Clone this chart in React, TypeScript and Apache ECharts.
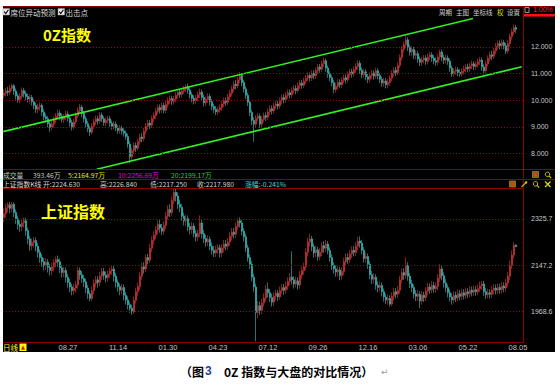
import React, { useEffect, useRef } from "react";
import * as echarts from "echarts";

// [open, close, low, high] — OZ index (top panel)
const ozCandles: number[][] = [
  [10.18,10.26,10.06,10.40],[10.26,10.34,10.14,10.46],[10.34,10.30,10.16,10.50],[10.30,10.44,10.20,10.56],[10.44,10.54,10.34,10.62],
  [10.54,10.34,10.20,10.60],[10.34,10.16,10.02,10.44],[10.16,10.02,9.90,10.26],[10.02,10.14,9.88,10.24],[10.14,10.36,10.04,10.48],
  [10.36,10.24,10.10,10.46],[10.24,10.14,10.00,10.34],[10.14,10.04,9.92,10.24],[10.04,10.10,9.88,10.22],[10.10,9.94,9.80,10.20],
  [9.94,9.80,9.66,10.04],[9.80,9.66,9.52,9.90],[9.66,9.74,9.50,9.86],[9.74,9.80,9.60,9.92],[9.80,9.56,9.42,9.88],
  [9.56,9.38,9.24,9.66],[9.38,9.30,9.16,9.50],[9.30,9.12,8.98,9.40],[9.12,8.98,8.81,9.22],[8.98,9.10,8.86,9.22],
  [9.10,9.26,8.98,9.38],[9.26,9.40,9.14,9.52],[9.40,9.52,9.28,9.66],[9.52,9.40,9.26,9.62],[9.40,9.28,9.16,9.50],
  [9.28,9.36,9.14,9.48],[9.36,9.48,9.24,9.60],[9.48,9.32,9.20,9.58],[9.32,9.16,9.02,9.42],[9.16,9.00,8.86,9.26],
  [9.00,9.18,8.90,9.30],[9.18,9.42,9.08,9.54],[9.42,9.60,9.32,9.72],[9.60,9.74,9.48,9.86],[9.74,9.50,9.36,9.82],
  [9.50,9.30,9.16,9.60],[9.30,9.12,8.98,9.40],[9.12,8.94,8.80,9.22],[8.94,8.80,8.66,9.04],[8.80,9.02,8.70,9.14],
  [9.02,9.18,8.92,9.30],[9.18,9.30,9.06,9.42],[9.30,9.22,9.08,9.42],[9.22,9.44,9.12,9.56],[9.44,9.30,9.18,9.54],
  [9.30,9.16,9.04,9.40],[9.16,9.24,9.02,9.36],[9.24,9.30,9.12,9.42],[9.30,9.14,9.00,9.40],[9.14,9.02,8.90,9.24],
  [9.02,9.10,8.90,9.22],[9.10,8.96,8.84,9.20],[8.96,8.86,8.74,9.06],[8.86,8.94,8.74,9.06],[8.94,8.84,8.70,9.04],
  [8.84,8.76,8.64,8.94],[8.76,8.64,8.52,8.86],[8.64,8.36,8.22,8.74],[8.36,7.88,7.63,8.46],[7.88,8.10,7.74,8.22],
  [8.10,8.30,7.98,8.42],[8.30,8.20,8.06,8.42],[8.20,8.44,8.10,8.56],[8.44,8.62,8.32,8.74],[8.62,8.56,8.42,8.76],
  [8.56,8.84,8.46,8.96],[8.84,9.02,8.72,9.14],[9.02,9.14,8.90,9.26],[9.14,9.06,8.92,9.26],[9.06,9.30,8.96,9.42],
  [9.30,9.42,9.18,9.54],[9.42,9.58,9.30,9.70],[9.58,9.72,9.46,9.84],[9.72,9.64,9.50,9.84],[9.64,9.80,9.52,9.92],
  [9.80,9.62,9.50,9.90],[9.62,9.84,9.52,9.96],[9.84,9.98,9.72,10.10],[9.98,10.06,9.86,10.18],[10.06,9.96,9.82,10.16],
  [9.96,10.04,9.84,10.16],[10.04,10.18,9.92,10.30],[10.18,10.30,10.06,10.42],[10.30,10.22,10.08,10.40],[10.22,10.34,10.10,10.46],
  [10.34,10.42,10.22,10.54],[10.42,10.50,10.30,10.60],[10.50,10.38,10.24,10.62],[10.38,10.20,10.06,10.48],[10.20,10.06,9.92,10.30],
  [10.06,9.98,9.84,10.18],[9.98,10.08,9.86,10.20],[10.08,10.20,9.96,10.32],[10.20,10.30,10.08,10.44],[10.30,10.10,9.96,10.40],
  [10.10,9.90,9.76,10.20],[9.90,10.02,9.78,10.14],[10.02,10.14,9.90,10.26],[10.14,9.94,9.80,10.24],[9.94,9.76,9.62,10.04],
  [9.76,9.66,9.52,9.86],[9.66,9.56,9.44,9.78],[9.56,9.64,9.44,9.76],[9.64,9.72,9.52,9.84],[9.72,9.86,9.60,9.98],
  [9.86,9.98,9.74,10.10],[9.98,9.92,9.78,10.10],[9.92,10.12,9.82,10.24],[10.12,10.26,10.00,10.38],[10.26,10.42,10.14,10.54],
  [10.42,10.60,10.30,10.72],[10.60,10.54,10.40,10.76],[10.54,10.76,10.44,10.88],[10.76,10.92,10.64,11.06],[10.92,10.66,10.52,11.00],
  [10.66,10.42,10.28,10.76],[10.42,10.18,10.04,10.52],[10.18,9.92,9.78,10.28],[9.92,9.54,9.40,10.02],[9.54,9.24,9.06,9.64],
  [9.24,9.10,8.44,9.36],[9.10,9.32,8.98,9.44],[9.32,9.40,9.20,9.52],[9.40,9.10,8.96,9.50],[9.10,9.28,8.98,9.40],
  [9.28,9.42,9.16,9.54],[9.42,9.36,9.22,9.54],[9.36,9.56,9.26,9.68],[9.56,9.68,9.44,9.80],[9.68,9.60,9.46,9.80],
  [9.60,9.78,9.50,9.90],[9.78,9.86,9.66,9.98],[9.86,9.78,9.64,9.98],[9.78,9.98,9.68,10.10],[9.98,10.10,9.86,10.22],
  [10.10,10.02,9.88,10.22],[10.02,10.18,9.90,10.30],[10.18,10.28,10.06,10.40],[10.28,10.20,10.06,10.40],[10.20,10.36,10.08,10.48],
  [10.36,10.44,10.24,10.56],[10.44,10.36,10.22,10.56],[10.36,10.54,10.26,10.66],[10.54,10.64,10.42,10.76],[10.64,10.56,10.42,10.76],
  [10.56,10.72,10.46,10.84],[10.72,10.82,10.60,10.94],[10.82,10.92,10.70,11.04],[10.92,10.84,10.70,11.04],[10.84,11.00,10.72,11.12],
  [11.00,10.92,10.78,11.12],[10.92,11.10,10.80,11.22],[11.10,11.24,10.98,11.36],[11.24,11.16,11.02,11.36],[11.16,11.36,11.06,11.48],
  [11.36,11.48,11.24,11.60],[11.48,11.20,11.06,11.56],[11.20,10.98,10.84,11.30],[10.98,10.84,10.70,11.08],[10.84,10.66,10.52,10.94],
  [10.66,10.40,10.26,10.76],[10.40,10.52,10.28,10.64],[10.52,10.66,10.40,10.78],[10.66,10.58,10.44,10.78],[10.58,10.74,10.46,10.86],
  [10.74,10.84,10.62,10.96],[10.84,10.76,10.62,10.96],[10.76,10.96,10.66,11.08],[10.96,11.06,10.84,11.18],[11.06,10.98,10.84,11.18],
  [10.98,11.14,10.88,11.26],[11.14,11.26,11.02,11.38],[11.26,11.38,11.14,11.50],[11.38,11.12,10.98,11.48],[11.12,10.96,10.82,11.22],
  [10.96,11.06,10.84,11.18],[11.06,10.88,10.74,11.16],[10.88,10.78,10.64,10.98],[10.78,10.92,10.66,11.04],[10.92,11.02,10.80,11.14],
  [11.02,10.90,10.76,11.12],[10.90,11.10,10.80,11.22],[11.10,10.92,10.78,11.20],[10.92,10.78,10.64,11.02],[10.78,10.64,10.50,10.88],
  [10.64,10.72,10.50,10.84],[10.72,10.58,10.44,10.82],[10.58,10.66,10.44,10.78],[10.66,10.82,10.54,10.94],[10.82,11.00,10.70,11.12],
  [11.00,11.12,10.88,11.24],[11.12,11.04,10.90,11.24],[11.04,11.30,10.94,11.42],[11.30,11.60,11.20,11.72],[11.60,11.90,11.48,12.02],
  [11.90,12.08,11.78,12.20],[12.08,12.26,11.96,12.42],[12.26,11.98,11.84,12.36],[11.98,11.80,11.66,12.08],[11.80,11.90,11.66,12.02],
  [11.90,11.68,11.54,12.00],[11.68,11.74,11.52,11.86],[11.74,11.54,11.40,11.84],[11.54,11.42,11.28,11.64],[11.42,11.50,11.28,11.62],
  [11.50,11.58,11.38,11.70],[11.58,11.46,11.32,11.68],[11.46,11.62,11.34,11.74],[11.62,11.70,11.50,11.82],[11.70,11.58,11.44,11.80],
  [11.58,11.48,11.34,11.68],[11.48,11.42,11.28,11.60],[11.42,11.62,11.32,11.74],[11.62,11.80,11.50,11.90],[11.80,11.60,11.46,11.90],
  [11.60,11.50,11.36,11.70],[11.50,11.58,11.36,11.70],[11.58,11.46,11.32,11.68],[11.46,11.20,11.06,11.56],[11.20,10.98,10.87,11.30],
  [10.98,11.08,10.88,11.20],[11.08,11.14,10.96,11.26],[11.14,11.04,10.90,11.24],[11.04,10.98,10.88,11.16],[10.98,11.08,10.88,11.20],
  [11.08,11.16,10.96,11.28],[11.16,11.24,11.04,11.36],[11.24,11.18,11.04,11.36],[11.18,11.28,11.06,11.40],[11.28,11.36,11.16,11.48],
  [11.36,11.26,11.12,11.46],[11.26,11.34,11.14,11.46],[11.34,11.44,11.22,11.56],[11.44,11.50,11.32,11.62],[11.50,11.24,11.10,11.60],
  [11.24,11.10,10.96,11.34],[11.10,11.36,11.00,11.48],[11.36,11.56,11.26,11.68],[11.56,11.70,11.44,11.82],[11.70,11.64,11.50,11.84],
  [11.64,11.84,11.54,11.96],[11.84,12.02,11.72,12.14],[12.02,12.12,11.90,12.24],[12.12,12.04,11.90,12.24],[12.04,12.16,11.92,12.28],
  [12.16,12.04,11.90,12.26],[12.04,11.84,11.72,12.14],[11.84,12.12,11.74,12.24],[12.12,12.38,12.00,12.50],[12.38,12.56,12.26,12.68],
  [12.56,12.72,12.44,12.84],[12.72,12.66,12.52,12.82]
];

// [open, close, low, high] — Shanghai Composite (lower panel)
const shCandles: number[][] = [
  [2330,2346,2312,2366],[2346,2368,2330,2384],[2368,2380,2350,2390],[2380,2366,2346,2391],[2366,2382,2350,2391],
  [2382,2350,2332,2390],[2350,2326,2306,2362],[2326,2304,2284,2338],[2304,2296,2276,2320],[2296,2310,2278,2326],
  [2310,2318,2292,2332],[2318,2280,2260,2330],[2280,2248,2228,2292],[2248,2222,2202,2260],[2222,2234,2204,2250],
  [2234,2242,2216,2256],[2242,2220,2200,2254],[2220,2196,2176,2232],[2196,2176,2156,2208],[2176,2160,2140,2190],
  [2160,2146,2126,2174],[2146,2158,2128,2174],[2158,2138,2118,2170],[2138,2126,2106,2150],[2126,2140,2108,2156],
  [2140,2156,2122,2170],[2156,2168,2138,2180],[2168,2160,2140,2184],[2160,2136,2116,2172],[2136,2118,2098,2148],
  [2118,2126,2100,2140],[2126,2100,2080,2138],[2100,2080,2060,2112],[2080,2062,2042,2094],[2062,2048,2030,2074],
  [2048,2058,2032,2072],[2058,2070,2040,2084],[2070,2126,2056,2140],[2126,2110,2090,2138],[2110,2096,2078,2124],
  [2096,2082,2062,2108],[2082,2058,2038,2094],[2058,2036,2016,2070],[2036,2018,2006,2048],[2018,2048,2008,2064],
  [2048,2076,2034,2092],[2076,2090,2060,2104],[2090,2080,2060,2104],[2080,2104,2066,2120],[2104,2122,2090,2136],
  [2122,2108,2090,2136],[2108,2098,2080,2122],[2098,2112,2084,2126],[2112,2124,2098,2138],[2124,2132,2108,2146],
  [2132,2104,2084,2144],[2104,2080,2060,2116],[2080,2064,2044,2092],[2064,2050,2030,2076],[2050,2060,2034,2074],
  [2060,2030,2010,2072],[2030,2012,1994,2042],[2012,1994,1976,2026],[1994,1980,1962,2006],[1980,1966,1955,1994],
  [1966,2010,1958,2026],[2010,2044,1998,2060],[2044,2064,2028,2080],[2064,2104,2050,2120],[2104,2140,2090,2156],
  [2140,2132,2114,2158],[2132,2176,2120,2187],[2176,2166,2150,2190],[2166,2212,2154,2228],[2212,2242,2196,2258],
  [2242,2262,2226,2278],[2262,2282,2248,2298],[2282,2304,2266,2320],[2304,2290,2272,2322],[2290,2278,2262,2306],
  [2278,2300,2264,2316],[2300,2336,2286,2352],[2336,2362,2322,2378],[2362,2350,2332,2382],[2350,2396,2338,2412],
  [2396,2428,2382,2440],[2428,2414,2392,2444.8],[2414,2382,2364,2428],[2382,2370,2352,2400],[2370,2336,2318,2382],
  [2336,2318,2300,2350],[2318,2326,2298,2342],[2326,2296,2278,2338],[2296,2284,2266,2310],[2284,2298,2268,2314],
  [2298,2270,2254,2310],[2270,2256,2238,2284],[2256,2268,2240,2284],[2268,2310,2254,2339],[2310,2268,2250,2324],
  [2268,2250,2232,2282],[2250,2236,2218,2264],[2236,2246,2220,2262],[2246,2220,2204,2258],[2220,2204,2188,2234],
  [2204,2194,2178,2220],[2194,2206,2178,2222],[2206,2214,2190,2228],[2214,2194,2176,2226],[2194,2212,2178,2228],
  [2212,2228,2196,2244],[2228,2220,2204,2244],[2220,2236,2206,2252],[2236,2258,2220,2274],[2258,2274,2242,2290],
  [2274,2266,2250,2290],[2266,2296,2252,2312],[2296,2318,2282,2328],[2318,2310,2292,2331],[2310,2278,2262,2322],
  [2278,2256,2238,2290],[2256,2214,2198,2268],[2214,2176,2160,2226],[2176,2150,2132,2188],[2150,2100,2084,2162],
  [2100,2062,2044,2114],[2062,1964,1852,2076],[1964,1990,1942,2008],[1990,1972,1954,2006],[1972,2000,1958,2016],
  [2000,2020,1986,2038],[2020,2054,2006,2070],[2054,2040,2022,2080],[2040,2022,2004,2054],[2022,2004,1986,2036],
  [2004,2026,1988,2042],[2026,2038,2010,2052],[2038,2024,2008,2050],[2024,2048,2012,2064],[2048,2060,2034,2074],
  [2060,2050,2032,2074],[2050,2066,2036,2082],[2066,2084,2052,2100],[2084,2100,2068,2116],[2100,2090,2072,2200],
  [2090,2074,2056,2104],[2074,2086,2060,2102],[2086,2070,2052,2100],[2070,2108,2056,2124],[2108,2126,2092,2142],
  [2126,2140,2110,2156],[2140,2196,2126,2212],[2196,2236,2180,2252],[2236,2248,2218,2268],[2248,2218,2200,2260],
  [2218,2194,2176,2230],[2194,2206,2178,2222],[2206,2180,2164,2218],[2180,2196,2166,2212],[2196,2222,2182,2236],
  [2222,2212,2194,2240],[2212,2228,2198,2244],[2228,2204,2188,2240],[2204,2176,2160,2216],[2176,2146,2128,2188],
  [2146,2132,2114,2158],[2132,2120,2102,2146],[2120,2128,2102,2144],[2128,2106,2088,2140],[2106,2122,2090,2138],
  [2122,2160,2108,2176],[2160,2176,2144,2192],[2176,2168,2152,2192],[2168,2190,2154,2206],[2190,2204,2174,2220],
  [2204,2196,2180,2220],[2196,2220,2182,2236],[2220,2240,2204,2256],[2240,2232,2214,2258],[2232,2204,2188,2244],
  [2204,2172,2156,2216],[2172,2180,2156,2196],[2180,2150,2132,2192],[2150,2110,2092,2162],[2110,2092,2074,2124],
  [2092,2100,2076,2116],[2100,2070,2052,2112],[2070,2060,2042,2084],[2060,2068,2044,2084],[2068,2044,2026,2080],
  [2044,2024,2006,2056],[2024,2012,1996,2038],[2012,2018,1994,2034],[2018,1996,1987,2030],[1996,2026,1988,2042],
  [2026,2044,2010,2060],[2044,2034,2018,2058],[2034,2050,2020,2066],[2050,2090,2036,2106],[2090,2118,2076,2134],
  [2118,2108,2090,2134],[2108,2146,2094,2177],[2146,2104,2086,2158],[2104,2076,2058,2116],[2076,2060,2042,2090],
  [2060,2036,2018,2072],[2036,2026,2008,2050],[2026,2034,2008,2050],[2034,2008,1981,2046],[2008,2030,1994,2046],
  [2030,2022,2004,2044],[2022,2046,2008,2062],[2046,2062,2030,2078],[2062,2052,2036,2076],[2052,2068,2038,2084],
  [2068,2056,2040,2082],[2056,2064,2040,2080],[2064,2096,2050,2112],[2096,2132,2082,2150],[2132,2106,2088,2144],
  [2106,2078,2060,2118],[2078,2060,2042,2092],[2060,2040,2022,2072],[2040,2024,2006,2054],[2024,2012,1994,2038],
  [2012,2030,1998,2046],[2030,2020,2004,2044],[2020,2036,2006,2052],[2036,2026,2010,2050],[2026,2040,2012,2056],
  [2040,2030,2014,2054],[2030,2044,2016,2060],[2044,2036,2020,2058],[2036,2050,2022,2066],[2050,2042,2026,2064],
  [2042,2052,2028,2068],[2052,2044,2028,2066],[2044,2056,2030,2072],[2056,2066,2042,2084],[2066,2074,2050,2085],
  [2074,2044,2028,2086],[2044,2032,2016,2058],[2032,2040,2018,2056],[2040,2034,2018,2054],[2034,2050,2020,2066],
  [2050,2058,2034,2074],[2058,2050,2034,2072],[2050,2060,2036,2076],[2060,2052,2036,2074],[2052,2066,2038,2082],
  [2066,2058,2042,2080],[2058,2078,2044,2094],[2078,2104,2064,2120],[2104,2146,2090,2164],[2146,2186,2132,2204],
  [2186,2223,2172,2236],[2224.63,2217.98,2217.25,2226.84]
];

const ozRange = [7.42, 13.49];
const shRange = [1849.6, 2444.8];
const ozTicks = [8, 9, 10, 11, 12];
const shTicks = [1968.6, 2147.2, 2325.7];
const dateLabels = ["08.27", "11.14", "01.30", "04.23", "07.12", "09.26", "12.16", "03.06", "05.22", "08.05"];
const firstLabelIndex = 31;
const labelStep = 25;
const slotCount = 260;
// channel lines of the OZ panel: [candle index, value]
const upperTrend = [[-0.4, 8.82], [234.5, 13.06]];
const lowerTrend = [[46.3, 7.41], [258.9, 11.25]];

const headerLeft = ["席位异动预测", "出击点"];
const headerRight = ["周期", "主图", "坐标线", "权", "设置"];
const volumeTexts = ["成交量", "393.46万", "5:2164.97万", "10:2256.69万", "20:2199.17万"];
const quoteTexts = ["上证指数K线", "开:2224.630", "高:2226.840", "低:2217.250", "收:2217.980", "涨幅:-0.241%"];
const topTitle = "0Z指数";
const bottomTitle = "上证指数";
const changeTag = "1.00%";
const periodTag = "日线";

const labelAt = (i: number) => {
  const k = (i - firstLabelIndex) / labelStep;
  return Number.isInteger(k) && k >= 0 && k < dateLabels.length ? dateLabels[k] : "";
};

const CJK = '"Noto Sans CJK SC", "Noto Sans", sans-serif';
const LAT = '"Liberation Sans", Arial, sans-serif';
const FRAME = "#8c0000";
const UP = "#e23434";
const DOWN = "#34c6c6";

function txt(text: string, x: number, y: number, fill: string, fontSize: number, extra: any = {}) {
  return {
    type: "text",
    x,
    y,
    z: 10,
    style: {
      text,
      fill,
      fontSize,
      fontFamily: extra.fontFamily || CJK,
      fontWeight: extra.fontWeight || "normal",
      align: extra.align || "left",
      verticalAlign: "middle",
      textAlign: extra.align || "left",
      textVerticalAlign: "middle",
    },
  };
}
function ln(x1: number, y1: number, x2: number, y2: number, stroke: string, lineWidth = 1) {
  return { type: "line", z: 5, shape: { x1, y1, x2, y2 }, style: { stroke, lineWidth } };
}

export default function App() {
  const ref = useRef<HTMLDivElement>(null);
  useEffect(() => {
    if (!ref.current) return;
    const chart = echarts.init(ref.current, undefined, { renderer: "svg" });
    const categories = Array.from({ length: slotCount }, (_, i) => String(i));

    const volX = [3, 33, 68, 118, 171];
    const volColors = ["#c8c8c8", "#c8c8c8", "#e8e800", "#e000e0", "#22d022"];
    const quoteX = [3, 43, 100, 150, 197, 245];
    const quoteColors = ["#d8d8d8", "#d0d0d0", "#d0d0d0", "#d0d0d0", "#d0d0d0", "#40d8d8"];
    const hrX = [439, 456, 473, 497, 507];

    const icons: any[] = [];
    const boxIcon = (x: number, y: number) => {
      icons.push({ type: "rect", z: 10, shape: { x, y, width: 6, height: 6 }, style: { fill: "#806010", stroke: "#c8a020", lineWidth: 0.6 } });
      icons.push({ type: "rect", z: 11, shape: { x: x + 1.5, y: y + 2, width: 3, height: 2.5 }, style: { fill: "#e04030" } });
    };
    const lensIcon = (x: number, y: number) => {
      icons.push({ type: "circle", z: 10, shape: { cx: x + 3, cy: y + 2.8, r: 2.2 }, style: { fill: "none", stroke: "#c8d000", lineWidth: 1 } });
      icons.push(ln(x + 4.6, y + 4.4, x + 6.6, y + 6.6, "#c8d000", 1.2));
    };
    boxIcon(532.5, 171.5);
    lensIcon(544.5, 171.5);
    boxIcon(509.5, 181);
    icons.push(ln(521.5, 187, 527, 181.5, "#c8b000", 1.2));
    icons.push({ type: "circle", z: 10, shape: { cx: 526, cy: 182.5, r: 1.2 }, style: { fill: "#e0c000" } });
    lensIcon(532.5, 181);
    icons.push(ln(545, 181.5, 550.5, 187, "#d8d800", 1.2));
    icons.push(ln(550.5, 181.5, 545, 187, "#d8d800", 1.2));

    const checkbox = (x: number) => [
      { type: "rect", z: 10, shape: { x, y: 8.5, width: 6.5, height: 6.5 }, style: { fill: "#e8e8e8", stroke: "#999", lineWidth: 0.5 } },
      { type: "polyline", z: 11, shape: { points: [[x + 1.2, 11.6], [x + 2.8, 13.6], [x + 5.4, 9.8]] }, style: { stroke: "#000", lineWidth: 1.1, fill: "none" } },
    ];

    const graphic: any[] = [
      { type: "rect", z: -10, shape: { x: 3, y: 6, width: 552, height: 346 }, style: { fill: "#000" } },
      ln(3, 6.5, 555, 6.5, FRAME),
      ln(3, 169.5, 555, 169.5, FRAME),
      ln(3, 179.5, 555, 179.5, FRAME),
      ln(3, 188.5, 523.5, 188.5, FRAME),
      ln(3, 342.5, 523.5, 342.5, FRAME),
      ln(523.5, 6, 523.5, 342.5, FRAME),
      { type: "rect", z: 6, shape: { x: 524, y: 14, width: 31, height: 2.6 }, style: { fill: "#ff1010" } },
      { type: "rect", z: 6, shape: { x: 525, y: 7.5, width: 4, height: 5 }, style: { fill: "none", stroke: "#d0d0d0", lineWidth: 0.7 } },
      txt(changeTag, 533, 9, "#ff2020", 7, { fontFamily: LAT }),
      ...checkbox(3),
      txt(headerLeft[0], 10.5, 12, "#d8d8d8", 7.5),
      ...checkbox(58),
      txt(headerLeft[1], 65.5, 12, "#d8d8d8", 7.5),
      ...headerRight.map((t, i) => txt(t, hrX[i], 12, t === "权" ? "#e0e000" : "#d0d0d0", 6.5)),
      txt(topTitle, 43, 34, "#ffff00", 15, { fontWeight: "bold" }),
      txt(bottomTitle, 41, 210.5, "#ffff00", 16, { fontWeight: "bold" }),
      ...volumeTexts.map((t, i) => txt(t, volX[i], 174.5, volColors[i], 6.8)),
      ...quoteTexts.map((t, i) => txt(t, quoteX[i], 184.2, quoteColors[i], 6.8)),
      ...icons,
      txt(periodTag, 3, 347.5, "#ffff00", 7.5),
      { type: "rect", z: 10, shape: { x: 19.5, y: 343.5, width: 7, height: 7.5 }, style: { fill: "#ffff00" } },
      { type: "polygon", z: 11, shape: { points: [[21, 349.8], [23, 345.2], [25, 349.8]] }, style: { fill: "#d02000" } },
      txt("（图", 180, 371, "#000", 12, { fontWeight: "bold" }),
      txt("3", 205, 371, "#1f3f9f", 12, { fontWeight: "bold", fontFamily: LAT }),
      txt("0Z 指数与大盘的对比情况）", 224, 371, "#000", 12, { fontWeight: "bold" }),
      txt("↵", 381, 372, "#999", 9, { fontFamily: '"DejaVu Sans", sans-serif' }),
    ];

    const candleStyle = {
      color: UP,
      color0: DOWN,
      borderColor: UP,
      borderColor0: DOWN,
      borderWidth: 0.6,
    };
    const gridMark = (ticks: number[], digits: number) => ({
      silent: true,
      symbol: ["none", "none"],
      lineStyle: { color: "#a00000", type: [1, 2], width: 1 },
      label: {
        position: "end",
        distance: 8,
        color: "#c8c8c8",
        fontSize: 7,
        fontFamily: LAT,
        formatter: (p: any) => Number(p.value).toFixed(digits),
      },
      data: ticks.map((v) => ({ yAxis: v })),
    });

    chart.setOption({
      animation: false,
      backgroundColor: "#ffffff",
      grid: [
        { left: 3, top: 7, width: 520, height: 162 },
        { left: 3, top: 188, width: 520, height: 154 },
      ],
      xAxis: [
        { type: "category", gridIndex: 0, data: categories, show: false, boundaryGap: true },
        {
          type: "category",
          gridIndex: 1,
          data: categories,
          boundaryGap: true,
          axisLine: { show: false },
          axisTick: { show: false },
          splitLine: { show: false },
          axisLabel: {
            interval: (i: number) => labelAt(i) !== "",
            formatter: (_v: string, i: number) => labelAt(i),
            color: "#c0c0c0",
            fontSize: 7.5,
            fontFamily: LAT,
            margin: 1.5,
            padding: [0, 0, 0, 4],
          },
        },
        { type: "value", gridIndex: 0, min: -0.5, max: slotCount - 0.5, show: false },
      ],
      yAxis: [
        { type: "value", gridIndex: 0, min: ozRange[0], max: ozRange[1], show: false, splitLine: { show: false } },
        { type: "value", gridIndex: 1, min: shRange[0], max: shRange[1], show: false, splitLine: { show: false } },
      ],
      series: [
        {
          type: "candlestick",
          xAxisIndex: 0,
          yAxisIndex: 0,
          data: ozCandles,
          barWidth: 1.6,
          itemStyle: candleStyle,
          markLine: gridMark(ozTicks, 3),
        },
        {
          type: "candlestick",
          xAxisIndex: 1,
          yAxisIndex: 1,
          data: shCandles,
          barWidth: 1.6,
          itemStyle: candleStyle,
          markLine: gridMark(shTicks, 1),
        },
        {
          type: "line",
          xAxisIndex: 2,
          yAxisIndex: 0,
          data: upperTrend,
          symbol: "none",
          clip: true,
          z: 4,
          lineStyle: { color: "#33ee22", width: 1.6 },
        },
        {
          type: "line",
          xAxisIndex: 2,
          yAxisIndex: 0,
          data: lowerTrend,
          symbol: "none",
          clip: true,
          z: 4,
          lineStyle: { color: "#33ee22", width: 1.6 },
        },
      ],
      graphic,
    });
    return () => chart.dispose();
  }, []);

  return (
    <div
      ref={ref}
      style={{ position: "absolute", left: 0, top: 0, width: 560, height: 386, background: "#fff" }}
    />
  );
}
